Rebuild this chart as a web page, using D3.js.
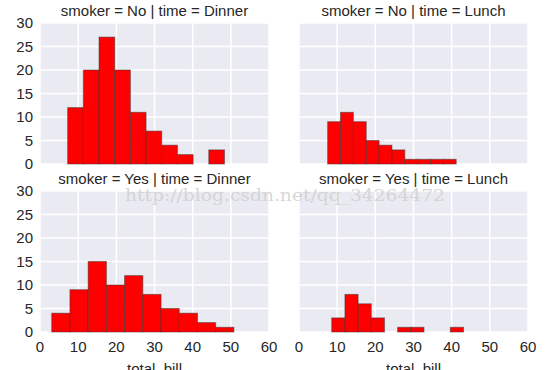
<!DOCTYPE html>
<html>
<head>
<meta charset="utf-8">
<script src="https://cdn.jsdelivr.net/npm/d3@7"></script>
<style>
  body { margin: 0; background: #fff; }
  text { font-family: Arial, "Liberation Sans", sans-serif; fill: #262626; }
</style>
</head>
<body>
<div id="chart"></div>
<script>
// facet titles, row by row
var panelTitles = [
  "smoker = No | time = Dinner", "smoker = No | time = Lunch",
  "smoker = Yes | time = Dinner", "smoker = Yes | time = Lunch"
];
// total_bill range of each facet (first and last bin edge)
var binLo = [7.25, 7.51, 3.07, 8.58];
var binHi = [48.33, 41.19, 50.81, 43.11];
// counts per bin (10 bins each)
var countsNoDinner  = [12, 20, 27, 20, 11, 7, 4, 2, 0, 3];
var countsNoLunch   = [9, 11, 9, 5, 4, 3, 1, 1, 1, 1];
var countsYesDinner = [4, 9, 15, 10, 12, 8, 5, 4, 2, 1];
var countsYesLunch  = [3, 8, 6, 3, 0, 1, 1, 0, 0, 1];
var allCounts = [countsNoDinner, countsNoLunch, countsYesDinner, countsYesLunch];
var xTicks = [0, 10, 20, 30, 40, 50, 60];
var yTicks = [0, 5, 10, 15, 20, 25, 30];

var W = 552, H = 370;
var svg = d3.select("#chart").append("svg")
  .attr("width", W).attr("height", H);

// panel boxes
var colX = [40, 299], pw = 229;
var rowY = [23, 191], ph = 141;

var x = d3.scaleLinear().domain([0, 60]).range([0, pw]);
var y = d3.scaleLinear().domain([0, 30]).range([ph, 0]);

allCounts.forEach(function (counts, i) {
  var r = Math.floor(i / 2), c = i % 2;
  var g = svg.append("g")
    .attr("transform", "translate(" + colX[c] + "," + rowY[r] + ")");

  g.append("rect").attr("width", pw).attr("height", ph).attr("fill", "#EAEAF2");

  // grid
  g.selectAll(".gx").data(xTicks).enter().append("line")
    .attr("x1", function (d) { return x(d); }).attr("x2", function (d) { return x(d); })
    .attr("y1", 0).attr("y2", ph)
    .attr("stroke", "#fff").attr("stroke-width", 1.5);
  g.selectAll(".gy").data(yTicks).enter().append("line")
    .attr("y1", function (d) { return y(d); }).attr("y2", function (d) { return y(d); })
    .attr("x1", 0).attr("x2", pw)
    .attr("stroke", "#fff").attr("stroke-width", 1.5);

  // bins
  var step = (binHi[i] - binLo[i]) / counts.length;
  var bins = counts.map(function (n, k) {
    return { x0: binLo[i] + k * step, x1: binLo[i] + (k + 1) * step, n: n };
  });
  g.selectAll(".bar").data(bins).enter().append("rect")
    .attr("class", "bar")
    .attr("x", function (d) { return x(d.x0); })
    .attr("width", function (d) { return x(d.x1) - x(d.x0); })
    .attr("y", function (d) { return y(d.n); })
    .attr("height", function (d) { return y(0) - y(d.n); })
    .attr("fill", "#ff0000")
    .attr("stroke", "#333").attr("stroke-opacity", 0.5).attr("stroke-width", 1);

  // title
  g.append("text")
    .attr("x", pw / 2).attr("y", -7)
    .attr("text-anchor", "middle")
    .style("font-size", "15px")
    .text(panelTitles[i]);

  // y tick labels on left column only
  if (c === 0) {
    g.selectAll(".yl").data(yTicks).enter().append("text")
      .attr("x", -7).attr("y", function (d) { return y(d); })
      .attr("dy", "0.35em")
      .attr("text-anchor", "end")
      .style("font-size", "15px")
      .text(function (d) { return d; });
  }
  // x tick labels on bottom row only
  if (r === 1) {
    g.selectAll(".xl").data(xTicks).enter().append("text")
      .attr("x", function (d) { return x(d); }).attr("y", ph + 20)
      .attr("text-anchor", "middle")
      .style("font-size", "15px")
      .text(function (d) { return d; });
    g.append("text")
      .attr("x", pw / 2).attr("y", ph + 42)
      .attr("text-anchor", "middle")
      .style("font-size", "15px")
      .text("total_bill");
  }
});

// watermark
svg.append("text")
  .attr("x", 125).attr("y", 201)
  .attr("textLength", 320).attr("lengthAdjust", "spacingAndGlyphs")
  .style("font-family", "'DejaVu Serif', 'Liberation Serif', serif")
  .style("font-size", "17px")
  .style("fill", "#d0d0d0")
  .style("fill-opacity", 0.85)
  .text("http://blog.csdn.net/qq_34264472");
</script>
</body>
</html>
